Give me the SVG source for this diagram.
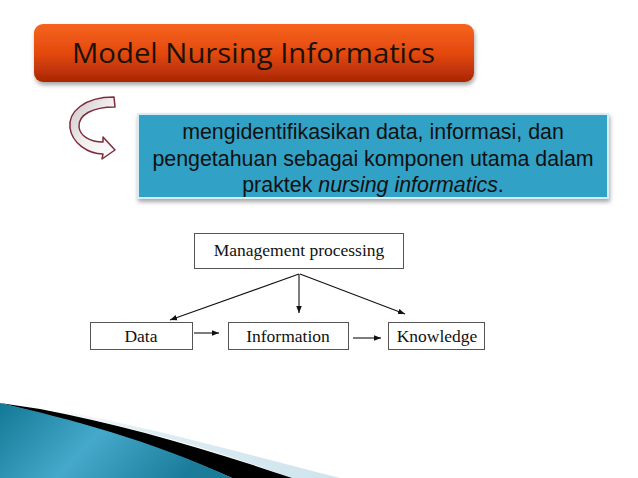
<svg xmlns="http://www.w3.org/2000/svg" width="638" height="478" viewBox="0 0 638 478">
<defs>
<linearGradient id="gTitle" x1="0" y1="0" x2="0" y2="1">
<stop offset="0" stop-color="#f6641e"/>
<stop offset="0.5" stop-color="#e4490e"/>
<stop offset="1" stop-color="#a92604"/>
</linearGradient>
<linearGradient id="gArrow" x1="0" y1="0" x2="1" y2="1">
<stop offset="0" stop-color="#c9c2c4"/>
<stop offset="0.5" stop-color="#f2eeee"/>
<stop offset="1" stop-color="#ffffff"/>
</linearGradient>
<linearGradient id="gSwoosh" x1="0" y1="0" x2="1" y2="0.3">
<stop offset="0" stop-color="#137895"/>
<stop offset="0.5" stop-color="#45a9cb"/>
<stop offset="1" stop-color="#1b7c9a"/>
</linearGradient>
<linearGradient id="gLight" x1="0" y1="0" x2="1" y2="0">
<stop offset="0" stop-color="#ffffff"/>
<stop offset="0.4" stop-color="#dcecf2"/>
<stop offset="1" stop-color="#cfe4ed"/>
</linearGradient>
<filter id="shadow" x="-5%" y="-10%" width="115%" height="130%">
<feDropShadow dx="1" dy="3" stdDeviation="2" flood-color="#000" flood-opacity="0.35"/>
</filter>
<marker id="ah" viewBox="0 0 10 10" refX="10" refY="5" markerWidth="7" markerHeight="7" markerUnits="userSpaceOnUse" orient="auto">
<path d="M0,1 L10,5 L0,9 Z" fill="#111"/>
</marker>
<style>
.box{fill:#fff;stroke:#555;stroke-width:1}
.lbl{font-family:"Liberation Serif","Times New Roman",serif;font-size:17.5px;fill:#111;text-anchor:middle}
.blue{font-family:"Liberation Sans",Arial,sans-serif;font-size:21.4px;fill:#111;text-anchor:middle}
.conn{stroke:#111;stroke-width:1.1;fill:none;marker-end:url(#ah)}
</style>
</defs>
<rect width="638" height="478" fill="#fff"/>

<g id="decor">
<path d="M60,410 C150,428 240,452 340,478 L290,478 C230,455 150,430 40,409 Z" fill="url(#gLight)"/>
<path d="M40,409 C120,424 200,447 292,478 L232,478 C170,450 90,425 0,403 Z" fill="#000"/>
<path d="M0,403 C70,419 150,440 232,478 L0,478 Z" fill="url(#gSwoosh)"/>
</g>

<g id="title">
<rect x="34" y="24" width="440" height="58" rx="9" fill="url(#gTitle)" filter="url(#shadow)"/>
<text x="72" y="63" font-family="'Open Sans','DejaVu Sans',sans-serif" font-size="28" fill="#1a1208" textLength="363" lengthAdjust="spacingAndGlyphs">Model Nursing Informatics</text>
</g>

<g id="curved-arrow">
<path d="M114,97 C84,97 68,112 70,128 C72,143 88,154 103,154 L102,159 L115,150 L103,137 L103,142 C90,142 80,136 79,127 C78,115 92,107 115,107 Z" fill="url(#gArrow)" stroke="#7b2d3b" stroke-width="1.5" stroke-linejoin="round"/>
</g>

<g id="description">
<rect x="138" y="114" width="470" height="84" fill="#30a1c6" stroke="#d7edf4" stroke-width="2" filter="url(#shadow)"/>
<text class="blue" x="373" y="139">mengidentifikasikan data, informasi, dan</text>
<text class="blue" x="373" y="166">pengetahuan sebagai komponen utama dalam</text>
<text class="blue" x="373" y="192">praktek <tspan font-style="italic">nursing informatics</tspan>.</text>
</g>

<g id="management">
<rect class="box" x="194.5" y="233.5" width="209" height="35"/>
<text class="lbl" x="299" y="256">Management processing</text>
</g>
<g id="data">
<rect class="box" x="90.5" y="322.5" width="102" height="27"/>
<text class="lbl" x="141" y="342">Data</text>
</g>
<g id="information">
<rect class="box" x="228.5" y="322.5" width="120" height="27"/>
<text class="lbl" x="288" y="342">Information</text>
</g>
<g id="knowledge">
<rect class="box" x="388.5" y="322.5" width="96" height="27"/>
<text class="lbl" x="437" y="342">Knowledge</text>
</g>

<g id="connectors">
<line class="conn" x1="299" y1="274" x2="170" y2="320"/>
<line class="conn" x1="299" y1="274" x2="299" y2="313"/>
<line class="conn" x1="300" y1="274" x2="405" y2="314"/>
<line class="conn" x1="194" y1="333" x2="219" y2="333"/>
<line class="conn" x1="353" y1="338" x2="381" y2="338"/>
</g>
</svg>
